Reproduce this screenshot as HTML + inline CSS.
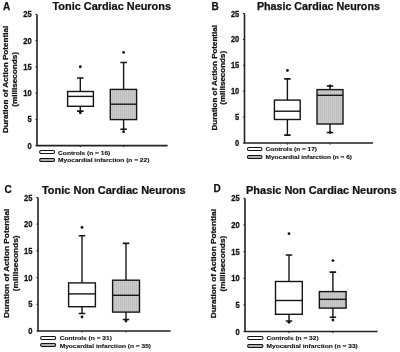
<!DOCTYPE html>
<html><head><meta charset="utf-8"><style>
html,body{margin:0;padding:0;background:#fff;width:400px;height:352px;overflow:hidden}
svg{display:block;will-change:transform;filter:blur(0.25px)}
text{font-family:"Liberation Sans", sans-serif;fill:#111;stroke:#111;stroke-width:0.25px}
.b{font-weight:bold}
.tl{text-anchor:end}
.mid{text-anchor:middle}
.lt{stroke-width:0.12px}
.ax{fill:none;stroke:#222;stroke-width:1.6}
.tk{fill:none;stroke:#222;stroke-width:1}
.wh{fill:none;stroke:#151515;stroke-width:1.4}
.cap{fill:none;stroke:#151515;stroke-width:1.6}
.bx{stroke:#151515;stroke-width:1.4}
.lg{stroke:#111;stroke-width:1.1}
circle{fill:#111}
</style></head><body>
<svg width="400" height="352" viewBox="0 0 400 352">
<defs><pattern id="hatch" width="2" height="2" patternUnits="userSpaceOnUse"><rect width="2" height="2" fill="#cbcbcb"/><rect width="1" height="2" fill="#bfbfbf"/></pattern></defs>
<rect width="400" height="352" fill="#fff"/>
<text x="3" y="10.3" class="b" font-size="10">A</text>
<text transform="translate(52.5 10.3) scale(1 0.92)" class="b" font-size="10.9">Tonic Cardiac Neurons</text>
<path d="M37 14.4V145.6H167.6" class="ax"/>
<text transform="translate(31.6 148.6) scale(1 1.12)" class="b tl" font-size="7.6">0</text>
<text transform="translate(31.6 122.36) scale(1 1.12)" class="b tl" font-size="7.6">5</text>
<text transform="translate(31.6 96.12) scale(1 1.12)" class="b tl" font-size="7.6">10</text>
<text transform="translate(31.6 69.88) scale(1 1.12)" class="b tl" font-size="7.6">15</text>
<text transform="translate(31.6 43.64) scale(1 1.12)" class="b tl" font-size="7.6">20</text>
<text transform="translate(31.6 17.4) scale(1 1.12)" class="b tl" font-size="7.6">25</text>
<path d="M35.4 145.6H37M35.4 119.36H37M35.4 93.12H37M35.4 66.88H37M35.4 40.64H37M35.4 14.4H37M80.3 145.6v1.6M123.6 145.6v1.6" class="tk"/>
<text transform="translate(5.6 79.4) rotate(-90) scale(1 0.95)" class="b mid" font-size="8.15" y="2.93">Duration of Action Potential</text>
<text transform="translate(14.4 79.4) rotate(-90) scale(1 0.95)" class="b mid" font-size="8.15" y="2.93">(milliseconds)</text>
<path d="M80.3 78V91.5M80.3 106.3V111.1" class="wh"/>
<path d="M77.05 78H83.55M77.05 111.1H83.55" class="cap"/>
<rect x="67.6" y="91.5" width="25.8" height="14.8" fill="#fff" class="bx"/>
<path d="M67.6 96.4H93.4" class="wh"/>
<circle cx="80.3" cy="66.75" r="1.4"/>
<circle cx="80.3" cy="112.8" r="1.4"/>
<path d="M123.6 62.5V89.4M123.6 119.6V129.2" class="wh"/>
<path d="M120.35 62.5H126.85M120.35 129.2H126.85" class="cap"/>
<rect x="110.3" y="89.4" width="26.3" height="30.2" fill="url(#hatch)" class="bx"/>
<path d="M110.3 104.2H136.6" class="wh"/>
<circle cx="123.6" cy="52.4" r="1.4"/>
<circle cx="123.6" cy="131.7" r="1.4"/>
<rect x="39.7" y="150.5" width="14.8" height="3" rx="1.2" fill="#fff" class="lg"/>
<text transform="translate(58.1 154.7) scale(1 0.95)" class="b lt" font-size="6.6">Controls (n = 16)</text>
<rect x="39.7" y="158.5" width="14.8" height="3" rx="1.2" fill="#b0b0b0" class="lg"/>
<text transform="translate(58.1 161.7) scale(1 0.95)" class="b lt" font-size="6.6">Myocardial infarction (n = 22)</text>
<text x="211.4" y="10.4" class="b" font-size="10">B</text>
<text transform="translate(256.9 9.7) scale(1 1.0)" class="b" font-size="10.7">Phasic Cardiac Neurons</text>
<path d="M244.5 13.5V143H373" class="ax"/>
<text transform="translate(239.2 146) scale(1 1.12)" class="b tl" font-size="7.45">0</text>
<text transform="translate(239.2 120.1) scale(1 1.12)" class="b tl" font-size="7.45">5</text>
<text transform="translate(239.2 94.2) scale(1 1.12)" class="b tl" font-size="7.45">10</text>
<text transform="translate(239.2 68.3) scale(1 1.12)" class="b tl" font-size="7.45">15</text>
<text transform="translate(239.2 42.4) scale(1 1.12)" class="b tl" font-size="7.45">20</text>
<text transform="translate(239.2 16.5) scale(1 1.12)" class="b tl" font-size="7.45">25</text>
<path d="M242.9 143H244.5M242.9 117.1H244.5M242.9 91.2H244.5M242.9 65.3H244.5M242.9 39.4H244.5M242.9 13.5H244.5M287.4 143v1.6M330 143v1.6" class="tk"/>
<text transform="translate(213.8 77.8) rotate(-90) scale(1 0.95)" class="b mid" font-size="8.0" y="2.88">Duration of Action Potential</text>
<text transform="translate(222.5 77.8) rotate(-90) scale(1 0.95)" class="b mid" font-size="8.0" y="2.88">(milliseconds)</text>
<path d="M287.4 78.9V100.1M287.4 119.5V135.1" class="wh"/>
<path d="M284.15 78.9H290.65M284.15 135.1H290.65" class="cap"/>
<rect x="274.4" y="100.1" width="25.8" height="19.4" fill="#fff" class="bx"/>
<path d="M274.4 111.2H300.2" class="wh"/>
<circle cx="287.4" cy="70.5" r="1.4"/>
<path d="M330 86V89.6M330 124V132.5" class="wh"/>
<path d="M326.75 86H333.25M326.75 132.5H333.25" class="cap"/>
<rect x="317" y="89.6" width="26" height="34.4" fill="url(#hatch)" class="bx"/>
<path d="M317 95.3H343" class="wh"/>
<circle cx="330" cy="86" r="1.4"/>
<circle cx="330" cy="132.6" r="1.4"/>
<rect x="247.5" y="147.5" width="14.4" height="3" rx="1.2" fill="#fff" class="lg"/>
<text transform="translate(265.6 151.4) scale(1 0.95)" class="b lt" font-size="6.5">Controls (n = 17)</text>
<rect x="247.5" y="155.5" width="14.4" height="3" rx="1.2" fill="#b0b0b0" class="lg"/>
<text transform="translate(265.6 158.7) scale(1 0.95)" class="b lt" font-size="6.5">Myocardial infarction (n = 6)</text>
<text x="4.4" y="192.6" class="b" font-size="10">C</text>
<text transform="translate(41.95 193.5) scale(1 0.92)" class="b" font-size="11.0">Tonic Non Cardiac Neurons</text>
<path d="M38 197.5V331H170.6" class="ax"/>
<text transform="translate(32.4 334) scale(1 1.12)" class="b tl" font-size="7.6">0</text>
<text transform="translate(32.4 307.3) scale(1 1.12)" class="b tl" font-size="7.6">5</text>
<text transform="translate(32.4 280.6) scale(1 1.12)" class="b tl" font-size="7.6">10</text>
<text transform="translate(32.4 253.9) scale(1 1.12)" class="b tl" font-size="7.6">15</text>
<text transform="translate(32.4 227.2) scale(1 1.12)" class="b tl" font-size="7.6">20</text>
<text transform="translate(32.4 200.5) scale(1 1.12)" class="b tl" font-size="7.6">25</text>
<path d="M36.4 331H38M36.4 304.3H38M36.4 277.6H38M36.4 250.9H38M36.4 224.2H38M36.4 197.5H38M82 331v1.6M126 331v1.6" class="tk"/>
<text transform="translate(6.6 263.3) rotate(-90) scale(1 0.95)" class="b mid" font-size="8.3" y="2.99">Duration of Action Potential</text>
<text transform="translate(15.2 263.3) rotate(-90) scale(1 0.95)" class="b mid" font-size="8.3" y="2.99">(milliseconds)</text>
<path d="M82 235.7V282.9M82 306.7V313.5" class="wh"/>
<path d="M78.75 235.7H85.25M78.75 313.5H85.25" class="cap"/>
<rect x="68.6" y="282.9" width="26.8" height="23.8" fill="#fff" class="bx"/>
<path d="M68.6 293.9H95.4" class="wh"/>
<circle cx="82" cy="227.4" r="1.4"/>
<circle cx="82" cy="316.9" r="1.4"/>
<path d="M126 243.4V280.2M126 312.1V319.5" class="wh"/>
<path d="M122.75 243.4H129.25M122.75 319.5H129.25" class="cap"/>
<rect x="112.6" y="280.2" width="26.9" height="31.9" fill="url(#hatch)" class="bx"/>
<path d="M112.6 295.3H139.5" class="wh"/>
<circle cx="126" cy="321" r="1.4"/>
<rect x="40.7" y="336.5" width="14.9" height="3" rx="1.2" fill="#fff" class="lg"/>
<text transform="translate(59.7 340) scale(1 0.95)" class="b lt" font-size="6.6">Controls (n = 31)</text>
<rect x="40.7" y="343.5" width="14.9" height="3" rx="1.2" fill="#b0b0b0" class="lg"/>
<text transform="translate(59.7 347.5) scale(1 0.95)" class="b lt" font-size="6.6">Myocardial infarction (n = 35)</text>
<text x="213.5" y="192.4" class="b" font-size="10">D</text>
<text transform="translate(246 194.4) scale(1 0.92)" class="b" font-size="11.0">Phasic Non Cardiac Neurons</text>
<path d="M245 198.4V331.5H377.6" class="ax"/>
<text transform="translate(239.6 334.5) scale(1 1.12)" class="b tl" font-size="7.6">0</text>
<text transform="translate(239.6 307.88) scale(1 1.12)" class="b tl" font-size="7.6">5</text>
<text transform="translate(239.6 281.26) scale(1 1.12)" class="b tl" font-size="7.6">10</text>
<text transform="translate(239.6 254.64) scale(1 1.12)" class="b tl" font-size="7.6">15</text>
<text transform="translate(239.6 228.02) scale(1 1.12)" class="b tl" font-size="7.6">20</text>
<text transform="translate(239.6 201.4) scale(1 1.12)" class="b tl" font-size="7.6">25</text>
<path d="M243.4 331.5H245M243.4 304.88H245M243.4 278.26H245M243.4 251.64H245M243.4 225.02H245M243.4 198.4H245M289 331.5v1.6M332.9 331.5v1.6" class="tk"/>
<text transform="translate(213.6 263.6) rotate(-90) scale(1 0.95)" class="b mid" font-size="8.3" y="2.99">Duration of Action Potential</text>
<text transform="translate(222.3 263.6) rotate(-90) scale(1 0.95)" class="b mid" font-size="8.3" y="2.99">(milliseconds)</text>
<path d="M289 255V281.5M289 314.3V321" class="wh"/>
<path d="M285.75 255H292.25M285.75 321H292.25" class="cap"/>
<rect x="275.5" y="281.5" width="26.8" height="32.8" fill="#fff" class="bx"/>
<path d="M275.5 300.5H302.3" class="wh"/>
<circle cx="289" cy="233.7" r="1.4"/>
<circle cx="289" cy="322.3" r="1.4"/>
<path d="M332.9 272.1V291.6M332.9 308.1V317.3" class="wh"/>
<path d="M329.65 272.1H336.15M329.65 317.3H336.15" class="cap"/>
<rect x="319.35" y="291.6" width="26.75" height="16.5" fill="url(#hatch)" class="bx"/>
<path d="M319.35 299.35H346.1" class="wh"/>
<circle cx="332.9" cy="260.6" r="1.4"/>
<circle cx="332.9" cy="320" r="1.4"/>
<rect x="247.7" y="336.5" width="15.2" height="3" rx="1.2" fill="#fff" class="lg"/>
<text transform="translate(266.5 340.3) scale(1 0.95)" class="b lt" font-size="6.6">Controls (n = 32)</text>
<rect x="247.7" y="344.5" width="15.2" height="3" rx="1.2" fill="#b0b0b0" class="lg"/>
<text transform="translate(266.5 348.1) scale(1 0.95)" class="b lt" font-size="6.6">Myocardial infarction (n = 33)</text>
</svg>
</body></html>
